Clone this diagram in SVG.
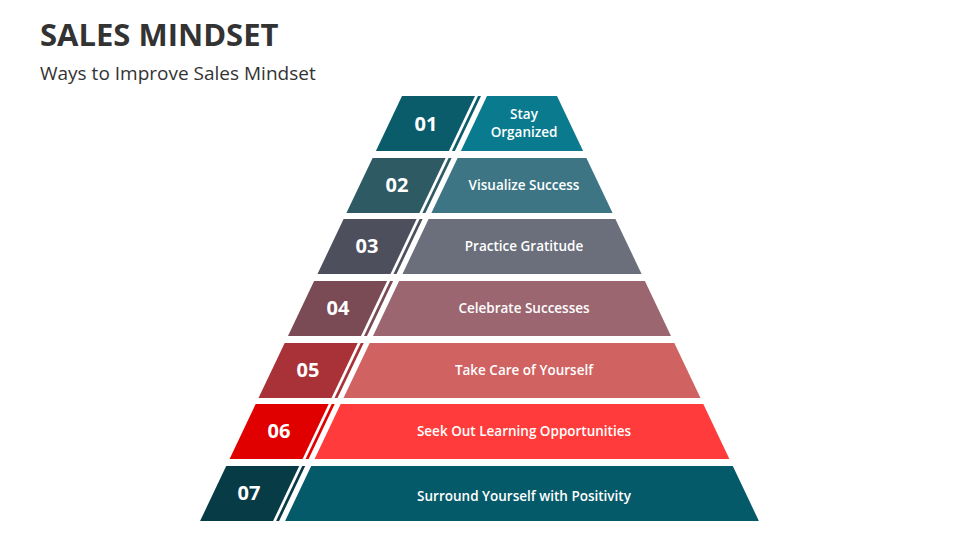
<svg xmlns="http://www.w3.org/2000/svg" width="960" height="540" viewBox="0 0 960 540">
<style>
.num{font-family:"Open Sans","Liberation Sans",sans-serif;font-weight:700;font-size:20px;fill:#fff;text-anchor:middle}
.lbl{font-family:"Open Sans","Liberation Sans",sans-serif;font-weight:600;font-size:13.5px;fill:#fff;text-anchor:middle}
</style>
<rect width="960" height="540" fill="#fff"/>
<text x="40" y="46" font-family="Open Sans, Liberation Sans, sans-serif" font-weight="700" font-size="31" fill="#333">SALES MINDSET</text>
<text x="40" y="80" font-family="Open Sans, Liberation Sans, sans-serif" font-size="19" fill="#333">Ways to Improve Sales Mindset</text>
<g id="row1"><polygon points="402,96 475,96 448.9,151 375.9,151" fill="#0a5c6b"/><polygon points="478,96 481,96 454.9,151 451.9,151" fill="#0a5c6b"/><polygon points="487,96 557,96 583.1,151 460.9,151" fill="#0a7a8e"/>
<text class="num" x="426" y="131">01</text><text class="lbl" x="524" y="119">Stay</text><text class="lbl" x="524" y="137">Organized</text></g>
<g id="row2"><polygon points="372.6,158 445.6,158 419.4,213 346.4,213" fill="#2e5a64"/><polygon points="448.6,158 451.6,158 425.4,213 422.4,213" fill="#2e5a64"/><polygon points="457.6,158 586.4,158 612.6,213 431.4,213" fill="#3d7585"/>
<text class="num" x="397" y="192">02</text><text class="lbl" x="524" y="190">Visualize Success</text></g>
<g id="row3"><polygon points="343.6,219 416.6,219 390.5,274 317.5,274" fill="#4d4f5c"/><polygon points="419.6,219 422.6,219 396.5,274 393.5,274" fill="#4d4f5c"/><polygon points="428.6,219 615.4,219 641.6,274 402.5,274" fill="#6b6e7b"/>
<text class="num" x="367" y="253">03</text><text class="lbl" x="524" y="251">Practice Gratitude</text></g>
<g id="row4"><polygon points="314.1,281 387.1,281 361,336 288,336" fill="#7a4a55"/><polygon points="390.1,281 393.1,281 367,336 364,336" fill="#7a4a55"/><polygon points="399.1,281 644.9,281 671,336 373,336" fill="#9c6670"/>
<text class="num" x="338" y="315">04</text><text class="lbl" x="524" y="313">Celebrate Successes</text></g>
<g id="row5"><polygon points="284.7,343 357.7,343 331.5,398 258.5,398" fill="#a83238"/><polygon points="360.7,343 363.7,343 337.5,398 334.5,398" fill="#a83238"/><polygon points="369.7,343 674.3,343 700.5,398 343.5,398" fill="#d06262"/>
<text class="num" x="308" y="377">05</text><text class="lbl" x="524" y="375">Take Care of Yourself</text></g>
<g id="row6"><polygon points="255.7,404 328.7,404 302.6,459 229.6,459" fill="#e00000"/><polygon points="331.7,404 334.7,404 308.6,459 305.6,459" fill="#e00000"/><polygon points="340.7,404 703.3,404 729.4,459 314.6,459" fill="#ff3b3b"/>
<text class="num" x="279" y="438">06</text><text class="lbl" x="524" y="436">Seek Out Learning Opportunities</text></g>
<g id="row7"><polygon points="226.2,466 299.2,466 273.1,521 200.1,521" fill="#073b45"/><polygon points="302.2,466 305.2,466 279.1,521 276.1,521" fill="#073b45"/><polygon points="311.2,466 732.8,466 758.9,521 285.1,521" fill="#055a6a"/>
<text class="num" x="249" y="500">07</text><text class="lbl" x="524" y="501">Surround Yourself with Positivity</text></g>
<g id="connectors"/>
</svg>
